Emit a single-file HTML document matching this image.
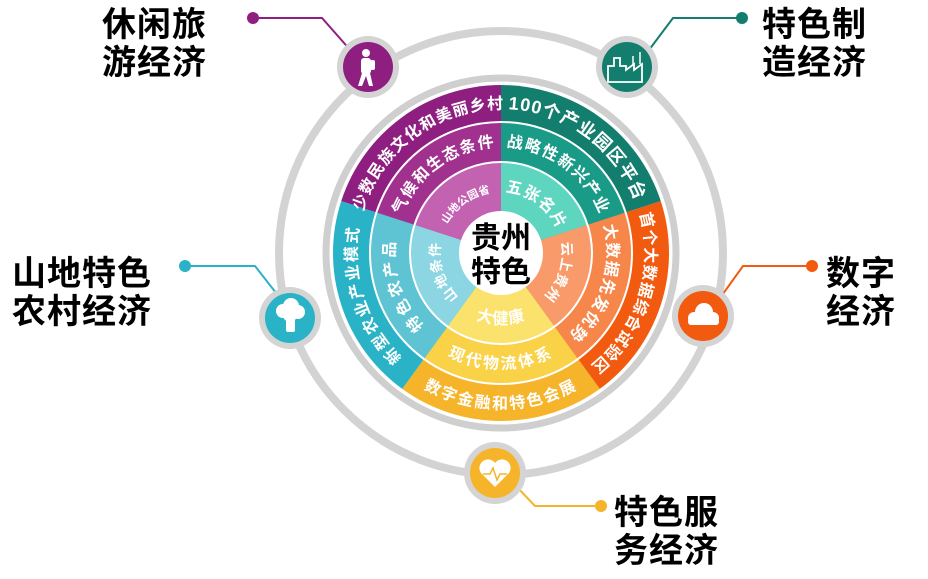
<!DOCTYPE html>
<html><head><meta charset="utf-8"><style>
html,body{margin:0;padding:0;background:#fff;}
body{width:928px;height:579px;position:relative;overflow:hidden;font-family:"Liberation Sans","Noto Sans CJK SC",sans-serif;}
.lb{position:absolute;font-size:34px;font-weight:bold;line-height:38px;color:#000;white-space:nowrap;letter-spacing:1px;}
svg text{font-family:"Liberation Sans","Noto Sans CJK SC",sans-serif;font-weight:bold;fill:#fff;}
</style></head><body>
<svg width="928" height="579" style="position:absolute;left:0;top:0">
<defs>
<path id="o1" d="M364.04 208.5 A144 144 0 0 1 501 109"/>
<path id="o2" d="M501 109 A144 144 0 0 1 637.96 208.5"/>
<path id="o3" d="M637.96 208.5 A144 144 0 0 1 585.64 369.5"/>
<path id="o4" d="M409.3 379.2 A156 156 0 0 0 592.7 379.2"/>
<path id="o5" d="M416.36 369.5 A144 144 0 0 1 364.04 208.5"/>
<path id="m1" d="M400.18 220.25 A106 106 0 0 1 501 147"/>
<path id="m2" d="M501 147 A106 106 0 0 1 601.82 220.25"/>
<path id="m3" d="M601.82 220.25 A106 106 0 0 1 563.31 338.75"/>
<path id="m4" d="M432.82 346.84 A116 116 0 0 0 569.18 346.84"/>
<path id="m5" d="M438.69 338.75 A106 106 0 0 1 400.18 220.25"/>
<path id="i1" d="M442.98 234.15 A61 61 0 0 1 501 192"/>
<path id="i2" d="M501 192 A61 61 0 0 1 559.02 234.15"/>
<path id="i3" d="M559.02 234.15 A61 61 0 0 1 536.86 302.35"/>
<path id="i4" d="M459.27 310.44 A71 71 0 0 0 542.73 310.44"/>
<path id="i5" d="M465.14 302.35 A61 61 0 0 1 442.98 234.15"/>
</defs>
<g fill="none" stroke-width="2">
<polyline points="253,18 322,18 352,52" stroke="#8e1f80"/>
<polyline points="742,18 673,18 646,54" stroke="#137d6e"/>
<polyline points="185,266 255,266 280,298" stroke="#2ab3c6"/>
<polyline points="812,266 743,266 720,298" stroke="#f25a0f"/>
<polyline points="601,506 535,506 515,485" stroke="#f5b42a"/>
</g>
<circle cx="253" cy="18" r="6" fill="#8e1f80"/>
<circle cx="742" cy="18" r="6" fill="#137d6e"/>
<circle cx="185" cy="266" r="6" fill="#2ab3c6"/>
<circle cx="812" cy="266" r="6" fill="#f25a0f"/>
<circle cx="601" cy="506" r="6" fill="#f5b42a"/>
<circle cx="501" cy="253" r="222" fill="none" stroke="#d3d3d3" stroke-width="8"/>
<circle cx="501" cy="253" r="175" fill="none" stroke="#cfcfcf" stroke-width="7"/>
<path d="M501 253 L341.22 201.09 A168 168 0 0 1 501 85 Z" fill="#8e1f80"/>
<path d="M501 253 L501 85 A168 168 0 0 1 660.78 201.09 Z" fill="#137d6e"/>
<path d="M501 253 L660.78 201.09 A168 168 0 0 1 599.75 388.91 Z" fill="#f25a0f"/>
<path d="M501 253 L599.75 388.91 A168 168 0 0 1 402.25 388.91 Z" fill="#f5b42a"/>
<path d="M501 253 L402.25 388.91 A168 168 0 0 1 341.22 201.09 Z" fill="#2ab3c6"/>
<path d="M501 253 L376.41 212.52 A131 131 0 0 1 501 122 Z" fill="#a1318f"/>
<path d="M501 253 L501 122 A131 131 0 0 1 625.59 212.52 Z" fill="#1a9b88"/>
<path d="M501 253 L625.59 212.52 A131 131 0 0 1 578 358.98 Z" fill="#f6864a"/>
<path d="M501 253 L578 358.98 A131 131 0 0 1 424 358.98 Z" fill="#f9d247"/>
<path d="M501 253 L424 358.98 A131 131 0 0 1 376.41 212.52 Z" fill="#5ec3d2"/>
<path d="M501 253 L414.45 224.88 A91 91 0 0 1 501 162 Z" fill="#c462b2"/>
<path d="M501 253 L501 162 A91 91 0 0 1 587.55 224.88 Z" fill="#5dd5bf"/>
<path d="M501 253 L587.55 224.88 A91 91 0 0 1 554.49 326.62 Z" fill="#f89a6a"/>
<path d="M501 253 L554.49 326.62 A91 91 0 0 1 447.51 326.62 Z" fill="#fbe26c"/>
<path d="M501 253 L447.51 326.62 A91 91 0 0 1 414.45 224.88 Z" fill="#8bd6e2"/>
<circle cx="501" cy="253" r="131" fill="none" stroke="#fff" stroke-width="2"/>
<circle cx="501" cy="253" r="91" fill="none" stroke="#fff" stroke-width="2"/>
<circle cx="501" cy="253" r="42" fill="#fff"/>
<g font-size="16" letter-spacing="1">
<text><textPath href="#o1" startOffset="50%" text-anchor="middle">少数民族文化和美丽乡村</textPath></text>
<text font-size="18"><textPath href="#o2" startOffset="50%" text-anchor="middle">100个产业园区平台</textPath></text>
<text><textPath href="#o3" startOffset="50%" text-anchor="middle">首个大数据综合试验区</textPath></text>
<text letter-spacing="2"><textPath href="#o4" startOffset="50%" text-anchor="middle">数字金融和特色会展</textPath></text>
<text letter-spacing="2"><textPath href="#o5" startOffset="50%" text-anchor="middle">新型农业产业模式</textPath></text>
</g>
<g font-size="16" letter-spacing="1.5">
<text><textPath href="#m1" startOffset="50%" text-anchor="middle">气候和生态条件</textPath></text>
<text><textPath href="#m2" startOffset="50%" text-anchor="middle">战略性新兴产业</textPath></text>
<text><textPath href="#m3" startOffset="50%" text-anchor="middle">大数据先发优势</textPath></text>
<text letter-spacing="2.5"><textPath href="#m4" startOffset="50%" text-anchor="middle">现代物流体系</textPath></text>
<text letter-spacing="3"><textPath href="#m5" startOffset="50%" text-anchor="middle">特色农产品</textPath></text>
</g>
<text font-size="11"><textPath href="#i1" startOffset="50%" text-anchor="middle">山地公园省</textPath></text>
<text font-size="16" letter-spacing="1"><textPath href="#i2" startOffset="50%" text-anchor="middle">五张名片</textPath></text>
<text font-size="14" letter-spacing="1"><textPath href="#i3" startOffset="50%" text-anchor="middle">云上贵州</textPath></text>
<text font-size="16" letter-spacing="1"><textPath href="#i4" startOffset="50%" text-anchor="middle">大健康</textPath></text>
<text font-size="14" letter-spacing="1"><textPath href="#i5" startOffset="50%" text-anchor="middle">山地条件</textPath></text>
<text x="501" y="248" font-size="30" text-anchor="middle" style="fill:#000;">贵州</text>
<text x="501" y="282" font-size="30" text-anchor="middle" style="fill:#000;">特色</text>
<g>
<circle cx="368" cy="67" r="31" fill="#d4d4d4"/><circle cx="368" cy="67" r="25" fill="#8e1f80"/>
<circle cx="366" cy="53" r="4" fill="#fff"/><rect x="361" y="58" width="10" height="16" rx="3" fill="#fff"/>
<rect x="370" y="60" width="5" height="10" rx="2" fill="#fff"/>
<path d="M362 73 L358 86 L362 86 L366 76 L369 86 L373 86 L370 73Z" fill="#fff"/>
</g>
<g>
<circle cx="627" cy="67" r="31" fill="#d4d4d4"/><circle cx="627" cy="67" r="25" fill="#137d6e"/>
<path d="M608 82 V66 H614 V58 H620 V66 H626 V70 L634 64 V70 L642 64 V82 Z" fill="none" stroke="#fff" stroke-width="1.8"/>
<line x1="640" y1="64" x2="640" y2="52" stroke="#fff" stroke-width="1.5"/>
<line x1="633" y1="64" x2="633" y2="56" stroke="#fff" stroke-width="1.5"/>
</g>
<g>
<circle cx="290" cy="318" r="31" fill="#d4d4d4"/><circle cx="290" cy="318" r="25" fill="#2ab3c6"/>
<circle cx="283" cy="311" r="7" fill="#fff"/><circle cx="291" cy="306" r="8" fill="#fff"/><circle cx="298" cy="312" r="7" fill="#fff"/>
<circle cx="290" cy="315" r="7" fill="#fff"/><rect x="286" y="316" width="9" height="16" rx="2" fill="#fff"/>
</g>
<g>
<circle cx="703" cy="316" r="31" fill="#d4d4d4"/><circle cx="703" cy="316" r="25" fill="#f25a0f"/>
<circle cx="704" cy="312" r="9" fill="#fff"/><circle cx="694" cy="318" r="6" fill="#fff"/><circle cx="713" cy="318" r="6" fill="#fff"/>
<rect x="688" y="318" width="31" height="7" rx="3" fill="#fff"/>
</g>
<g>
<circle cx="495" cy="473" r="31" fill="#d4d4d4"/><circle cx="495" cy="473" r="25" fill="#f5b42a"/>
<path d="M495 487 L481 473 A7 7 0 0 1 495 463 A7 7 0 0 1 509 473 Z" fill="#fff"/>
<polyline points="483,474 490,474 493,468 497,480 500,474 507,474" fill="none" stroke="#f5b42a" stroke-width="1.5"/>
</g>
</svg>
<div class="lb" style="left:102px;top:6px">休闲旅<br>游经济</div>
<div class="lb" style="left:762px;top:6px">特色制<br>造经济</div>
<div class="lb" style="left:12px;top:255px">山地特色<br>农村经济</div>
<div class="lb" style="left:826px;top:255px">数字<br>经济</div>
<div class="lb" style="left:614px;top:494px">特色服<br>务经济</div>
</body></html>
